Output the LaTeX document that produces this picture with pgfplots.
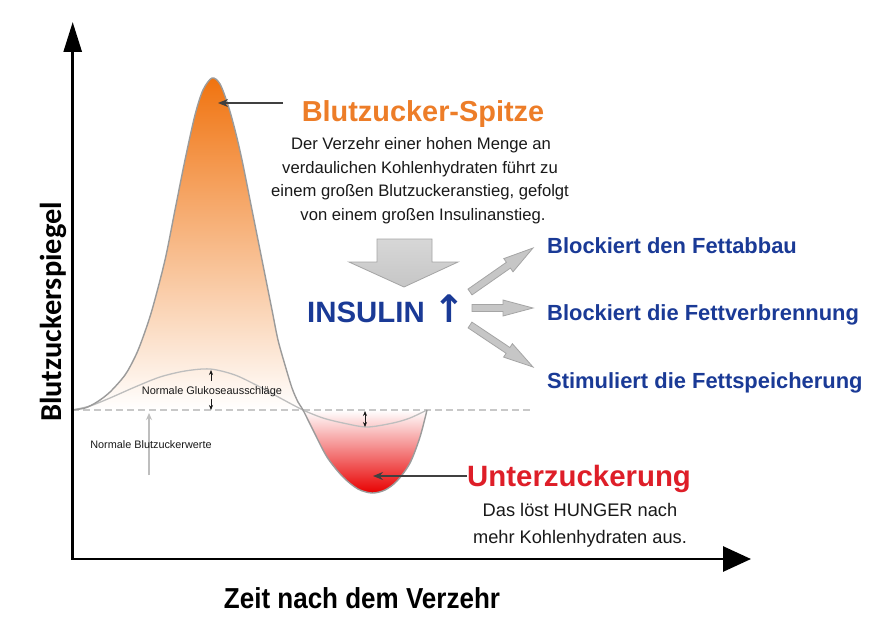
\documentclass[border=0pt]{standalone}
\usepackage{pgfplots}
\pgfplotsset{compat=1.18}
\usepackage{graphicx}
\usepackage{fontspec}
\setmainfont{Liberation Sans}
\newfontfamily\carlito{Carlito}
\newfontfamily\dejavu{DejaVu Sans}
\usetikzlibrary{arrows.meta}
\definecolor{peakorange}{RGB}{240,115,15}
\definecolor{titleorange}{RGB}{237,125,40}
\definecolor{troughred}{RGB}{232,0,0}
\definecolor{titlered}{RGB}{222,30,40}
\definecolor{insblue}{RGB}{26,58,150}
\definecolor{curvegray}{RGB}{155,155,155}
\definecolor{normgray}{RGB}{190,190,190}
\definecolor{dashgray}{RGB}{200,200,200}
\definecolor{blockfill}{RGB}{198,198,198}
\definecolor{blockline}{RGB}{165,165,165}
\definecolor{txt}{RGB}{25,25,25}
\begin{document}
\begin{tikzpicture}
\begin{axis}[
  scale only axis, width=890bp, height=627bp,
  xmin=0, xmax=890, ymin=0, ymax=627, y dir=reverse,
  hide axis, clip=false,
]
\path[fill=white] (axis cs:0,0) rectangle (axis cs:890,627);

% gradient fills
\addplot[draw=none, top color=peakorange, bottom color=white, smooth] coordinates {
 (72,410) (85,408) (97,402) (110,392) (125,375) (135,357) (142,340) (152,310)
 (165,260) (175,210) (185,160) (195,115) (203,90) (212,78) (220,84) (228,105)
 (235,130) (242,160) (252,210) (262,260) (272,310) (278,340) (285,365) (292,388)
 (298,402) (303,410)} -- cycle;
\addplot[draw=none, top color=white, bottom color=troughred, smooth] coordinates {
 (303,410) (313,430) (327,457) (343,477) (358,489) (372,493) (385,490) (397,481)
 (410,463) (420,437) (427,410)} -- cycle;

% baseline dashed
\addplot[dashgray, line width=1.6bp, dash pattern=on 7bp off 4bp] coordinates {(72,410) (532,410)};

% normal curve
\addplot[normgray, line width=1.3bp, smooth] coordinates {
 (72,410) (90,406) (110,398) (135,387) (160,377) (185,371) (210,369) (235,375)
 (260,387) (282,399) (303,410) (323,418) (343,423) (367,427) (393,423) (410,418) (427,410)};

% main curve
\addplot[curvegray, line width=1.4bp, smooth] coordinates {
 (72,410) (85,408) (97,402) (110,392) (125,375) (135,357) (142,340) (152,310)
 (165,260) (175,210) (185,160) (195,115) (203,90) (212,78) (220,84) (228,105)
 (235,130) (242,160) (252,210) (262,260) (272,310) (278,340) (285,365) (292,388)
 (298,402) (303,410) (313,430) (327,457) (343,477) (358,489) (372,493) (385,490) (397,481)
 (410,463) (420,437) (427,410)};

% axes arrows
\draw[black, line width=2.8bp, {Triangle[length=30bp,width=18bp]}-{Triangle[length=28bp,width=25bp]}]
  (axis cs:72.7,22) -- (axis cs:72.7,559) -- (axis cs:751,559);

% axis labels
\node[rotate=90, anchor=center] at (axis cs:53,312) {\carlito\bfseries\fontsize{30.5}{36}\selectfont Blutzuckerspiegel};
\node[anchor=base] at (axis cs:362,608) {\scalebox{0.9}[1]{\bfseries\fontsize{29}{34}\selectfont Zeit nach dem Verzehr}};

% small annotations
\draw[txt, line width=0.7bp, -{Stealth[length=5bp,width=4bp]}] (axis cs:211,381) -- (axis cs:211,370);
\draw[txt, line width=0.7bp, -{Stealth[length=5bp,width=4bp]}] (axis cs:211,399) -- (axis cs:211,410);
\node[anchor=center, inner sep=0pt] at (axis cs:212,391.5) {\fontsize{11}{13}\selectfont\color{txt}Normale Glukoseausschläge};
\draw[txt, line width=0.7bp, {Stealth[length=5bp,width=4bp]}-{Stealth[length=5bp,width=4bp]}] (axis cs:365,411) -- (axis cs:365,427);
\draw[normgray, line width=1.6bp, -{Stealth[length=7bp,width=6bp]}] (axis cs:149,475) -- (axis cs:149,413);
\node[anchor=center, inner sep=0pt] at (axis cs:151,445) {\fontsize{10.9}{13}\selectfont\color{txt}Normale Blutzuckerwerte};

% peak annotation
\draw[black!75, line width=1.4bp, -{Stealth[length=10bp,width=8bp]}] (axis cs:283,103) -- (axis cs:218,103);
\node[anchor=base] at (axis cs:423,121) {\bfseries\fontsize{29}{34}\selectfont\color{titleorange}Blutzucker-Spitze};
\node[anchor=base] at (axis cs:421,149) {\fontsize{16.7}{20}\selectfont\color{txt}Der Verzehr einer hohen Menge an};
\node[anchor=base] at (axis cs:420,173) {\fontsize{16.7}{20}\selectfont\color{txt}verdaulichen Kohlenhydraten führt zu};
\node[anchor=base] at (axis cs:420,196) {\fontsize{16.7}{20}\selectfont\color{txt}einem großen Blutzuckeranstieg, gefolgt};
\node[anchor=base] at (axis cs:423,220) {\fontsize{16.7}{20}\selectfont\color{txt}von einem großen Insulinanstieg.};

% big gray arrow
\draw[blockline, line width=0.8bp, top color=blockfill!70!white, bottom color=blockfill]
  (axis cs:377,239) -- (axis cs:432,239) -- (axis cs:432,262) -- (axis cs:458,262)
  -- (axis cs:404,287) -- (axis cs:349,262) -- (axis cs:377,262) -- cycle;

% insulin
\node[anchor=base west, inner sep=0pt] at (axis cs:307,322) {\bfseries\fontsize{29.5}{34}\selectfont\color{insblue}INSULIN\hspace{0.3em}{\dejavu\bfseries\fontsize{38}{40}\selectfont ↑}};

% small block arrows
\draw[blockline, line width=0.8bp, fill=blockfill]
  (axis cs:472.0,294.9) -- (axis cs:510.4,268.1) -- (axis cs:513.0,271.8) -- (axis cs:533,248)
  -- (axis cs:503.8,258.6) -- (axis cs:506.4,262.3) -- (axis cs:468.0,289.1) -- cycle;
\draw[blockline, line width=0.8bp, fill=blockfill]
  (axis cs:472,304.5) -- (axis cs:503,304.5) -- (axis cs:503,300) -- (axis cs:533,308)
  -- (axis cs:503,316) -- (axis cs:503,311.5) -- (axis cs:472,311.5) -- cycle;
\draw[blockline, line width=0.8bp, fill=blockfill]
  (axis cs:468.1,327.9) -- (axis cs:506.1,353.3) -- (axis cs:503.6,357.1) -- (axis cs:533,367)
  -- (axis cs:512.4,343.7) -- (axis cs:509.9,347.5) -- (axis cs:471.9,322.1) -- cycle;

\node[anchor=base west, inner sep=0pt] at (axis cs:547,253) {\bfseries\fontsize{22}{26}\selectfont\color{insblue}Blockiert den Fettabbau};
\node[anchor=base west, inner sep=0pt] at (axis cs:547,320) {\bfseries\fontsize{22}{26}\selectfont\color{insblue}Blockiert die Fettverbrennung};
\node[anchor=base west, inner sep=0pt] at (axis cs:547,388) {\bfseries\fontsize{22}{26}\selectfont\color{insblue}Stimuliert die Fettspeicherung};

% trough annotation
\draw[black!75, line width=1.4bp, -{Stealth[length=10bp,width=8bp]}] (axis cs:467,476) -- (axis cs:373,476);
\node[anchor=base west, inner sep=0pt] at (axis cs:467,486) {\bfseries\fontsize{29.5}{34}\selectfont\color{titlered}Unterzuckerung};
\node[anchor=base] at (axis cs:580,516) {\fontsize{18.3}{22}\selectfont\color{txt}Das löst HUNGER nach};
\node[anchor=base] at (axis cs:580,543) {\fontsize{18.3}{22}\selectfont\color{txt}mehr Kohlenhydraten aus.};
\end{axis}
\end{tikzpicture}
\end{document}
